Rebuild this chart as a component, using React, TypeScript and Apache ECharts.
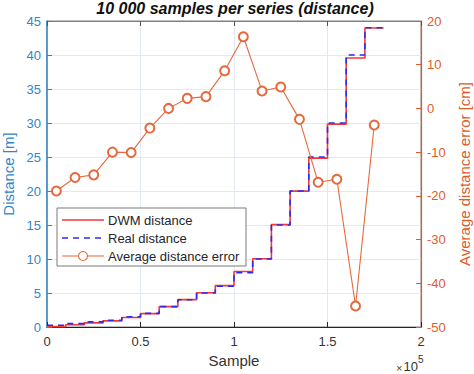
import React, { useEffect, useRef } from "react";
import * as echarts from "echarts";

// Series boundaries (sample index), 10 000 samples per series
const seriesStart = [0, 10000, 20000, 30000, 40000, 50000, 60000, 70000, 80000, 90000, 100000, 110000, 120000, 130000, 140000, 150000, 160000, 170000, 180000];
// Real distance per series [m]
const realDistance = [0.25, 0.5, 0.75, 1, 1.5, 2, 3, 4, 5, 6, 8, 10, 15, 20, 25, 30, 40, 44];
// DWM measured distance per series [m]
const dwmDistance = [0.06, 0.34, 0.6, 0.9, 1.4, 1.96, 3.0, 4.02, 5.03, 6.09, 8.16, 10.04, 15.05, 19.98, 24.83, 29.84, 39.55, 43.96];
// Average error markers at series centers
const errorSamples = [5000, 15000, 25000, 35000, 45000, 55000, 65000, 75000, 85000, 95000, 105000, 115000, 125000, 135000, 145000, 155000, 165000, 175000];
const avgError = [-18.9, -15.8, -15.2, -10.0, -10.1, -4.5, 0.0, 2.3, 2.7, 8.6, 16.4, 4.0, 4.9, -2.5, -16.9, -16.2, -45.2, -3.8];
const legendNames = ["DWM distance", "Real distance", "Average distance error"];

const BLUE_AX = "#2f86c9";
const ORANGE_AX = "#dc5d2b";
const RED = "#f03a3a";
const BLUE = "#2b2bf0";
const ORANGE = "#e5693d";
const FONT = "Liberation Sans";

function stepData(vals: number[]) {
  const d: [number, number][] = vals.map((v, i) => [seriesStart[i], v]);
  d.push([seriesStart[vals.length], vals[vals.length - 1]]);
  return d;
}

function legendGraphic() {
  const x0 = 57, y0 = 208, w = 189, h = 58;
  const rows = [220, 238, 256];
  const lx1 = 62, lx2 = 104, tx = 108;
  const Z = 100;
  const children: any[] = [
    { type: "rect", z: Z, shape: { x: x0, y: y0, width: w, height: h }, style: { fill: "#ffffff", stroke: "#7a7a7a", lineWidth: 1 } },
    { type: "line", z: Z + 1, shape: { x1: lx1, y1: rows[0], x2: lx2, y2: rows[0] }, style: { stroke: RED, lineWidth: 1.6 } },
    { type: "line", z: Z + 1, shape: { x1: lx1, y1: rows[1], x2: lx2, y2: rows[1] }, style: { stroke: BLUE, lineWidth: 1.6, lineDash: [6, 5] } },
    { type: "line", z: Z + 1, shape: { x1: lx1, y1: rows[2], x2: lx2, y2: rows[2] }, style: { stroke: ORANGE, lineWidth: 1.1 } },
    { type: "circle", z: Z + 2, shape: { cx: (lx1 + lx2) / 2, cy: rows[2], r: 4.5 }, style: { fill: "#ffffff", stroke: ORANGE, lineWidth: 1.1 } },
  ];
  legendNames.forEach((n, i) => {
    children.push({
      type: "text",
      z: Z + 2,
      x: tx,
      y: rows[i],
      style: { text: n, fontFamily: FONT, fontSize: 13, fill: "#262626", verticalAlign: "middle", align: "left" },
    });
  });
  return { type: "group", z: Z, children };
}

export default function App() {
  const ref = useRef<HTMLDivElement>(null);
  useEffect(() => {
    if (!ref.current) return;
    const chart = echarts.init(ref.current, undefined, { renderer: "svg" });
    chart.setOption({
      animation: false,
      backgroundColor: "#ffffff",
      textStyle: { fontFamily: FONT },
      title: {
        text: "10 000 samples per series (distance)",
        left: 235,
        textAlign: "center",
        top: 0,
        padding: 0,
        textStyle: { fontFamily: FONT, fontSize: 16, fontWeight: "bold", fontStyle: "italic", color: "#111" },
      },
      grid: { left: 47, right: 53, top: 21, bottom: 47, outerBoundsMode: "none", containLabel: false, show: true, borderColor: "#808080", borderWidth: 1, backgroundColor: "transparent" },
      xAxis: [
        {
          type: "value",
          min: 0,
          max: 200000,
          interval: 50000,
          name: "Sample",
          nameLocation: "middle",
          nameGap: 22,
          nameTextStyle: { fontFamily: FONT, fontSize: 15, color: "#333" },
          axisLine: { onZero: false, lineStyle: { color: "#262626" } },
          axisTick: { inside: true, length: 5, lineStyle: { color: "#262626" } },
          axisLabel: { fontFamily: FONT, fontSize: 13, color: "#333", margin: 8, formatter: (v: number) => String(v / 100000) },
          splitLine: { show: true, lineStyle: { color: "#e3e9f0" } },
        },
        {
          type: "value",
          position: "top",
          min: 0,
          max: 200000,
          interval: 50000,
          axisLine: { show: true, onZero: false, lineStyle: { color: "#808080" } },
          axisTick: { inside: true, length: 5, lineStyle: { color: "#555" } },
          axisLabel: { show: false },
          splitLine: { show: false },
        },
      ],
      yAxis: [
        {
          type: "value",
          min: 0,
          max: 45,
          interval: 5,
          position: "left",
          name: "Distance [m]",
          nameLocation: "middle",
          nameRotate: 90,
          nameGap: 26,
          nameTextStyle: { fontFamily: FONT, fontSize: 15, color: BLUE_AX },
          axisLine: { show: true, onZero: false, lineStyle: { color: BLUE_AX, width: 1.5 } },
          axisTick: { show: true, inside: true, length: 5, lineStyle: { color: BLUE_AX } },
          axisLabel: { fontFamily: FONT, fontSize: 13, color: BLUE_AX, margin: 6 },
          splitLine: { show: true, lineStyle: { color: "#e3e9f0" } },
        },
        {
          type: "value",
          min: -50,
          max: 20,
          interval: 10,
          position: "right",
          name: "Average distance error [cm]",
          nameLocation: "middle",
          nameRotate: 90,
          nameGap: 36,
          nameTextStyle: { fontFamily: FONT, fontSize: 15, color: ORANGE_AX },
          axisLine: { show: true, onZero: false, lineStyle: { color: ORANGE_AX, width: 1.2 } },
          axisTick: { show: true, inside: true, length: 5, lineStyle: { color: ORANGE_AX } },
          axisLabel: { fontFamily: FONT, fontSize: 13, color: ORANGE_AX, margin: 6 },
          splitLine: { show: false },
        },
      ],
      graphic: [
        {
          type: "text",
          left: 396,
          top: 354,
          style: {
            text: "{a|×}{b|10}{c|5}",
            rich: {
              a: { fontFamily: FONT, fontSize: 11, fill: "#444", verticalAlign: "bottom", padding: [6, 1, 0, 0] },
              b: { fontFamily: FONT, fontSize: 13, fill: "#333", verticalAlign: "bottom", padding: [6, 0, 0, 0] },
              c: { fontFamily: FONT, fontSize: 10, fill: "#333", verticalAlign: "top", padding: [0, 0, 8, 0] },
            },
          },
        },
        legendGraphic(),
      ],
      series: [
        {
          name: legendNames[0],
          type: "line",
          xAxisIndex: 0,
          yAxisIndex: 0,
          step: "end",
          symbol: "none",
          data: stepData(dwmDistance),
          lineStyle: { color: RED, width: 1.6 },
          itemStyle: { color: RED },
          z: 2,
        },
        {
          name: legendNames[1],
          type: "line",
          xAxisIndex: 0,
          yAxisIndex: 0,
          step: "end",
          symbol: "none",
          data: stepData(realDistance),
          lineStyle: { color: BLUE, width: 1.6, type: [6, 5] },
          itemStyle: { color: BLUE },
          z: 3,
        },
        {
          name: legendNames[2],
          type: "line",
          xAxisIndex: 0,
          yAxisIndex: 1,
          symbol: "emptyCircle",
          symbolSize: 9,
          showAllSymbol: true,
          data: errorSamples.map((s, i) => [s, avgError[i]]),
          lineStyle: { color: ORANGE, width: 1.1 },
          itemStyle: { color: ORANGE, borderWidth: 1.1 },
          z: 4,
        },
      ],
    });
    return () => chart.dispose();
  }, []);
  return <div ref={ref} style={{ width: 474, height: 374, position: "fixed", left: 0, top: 0 }} />;
}
